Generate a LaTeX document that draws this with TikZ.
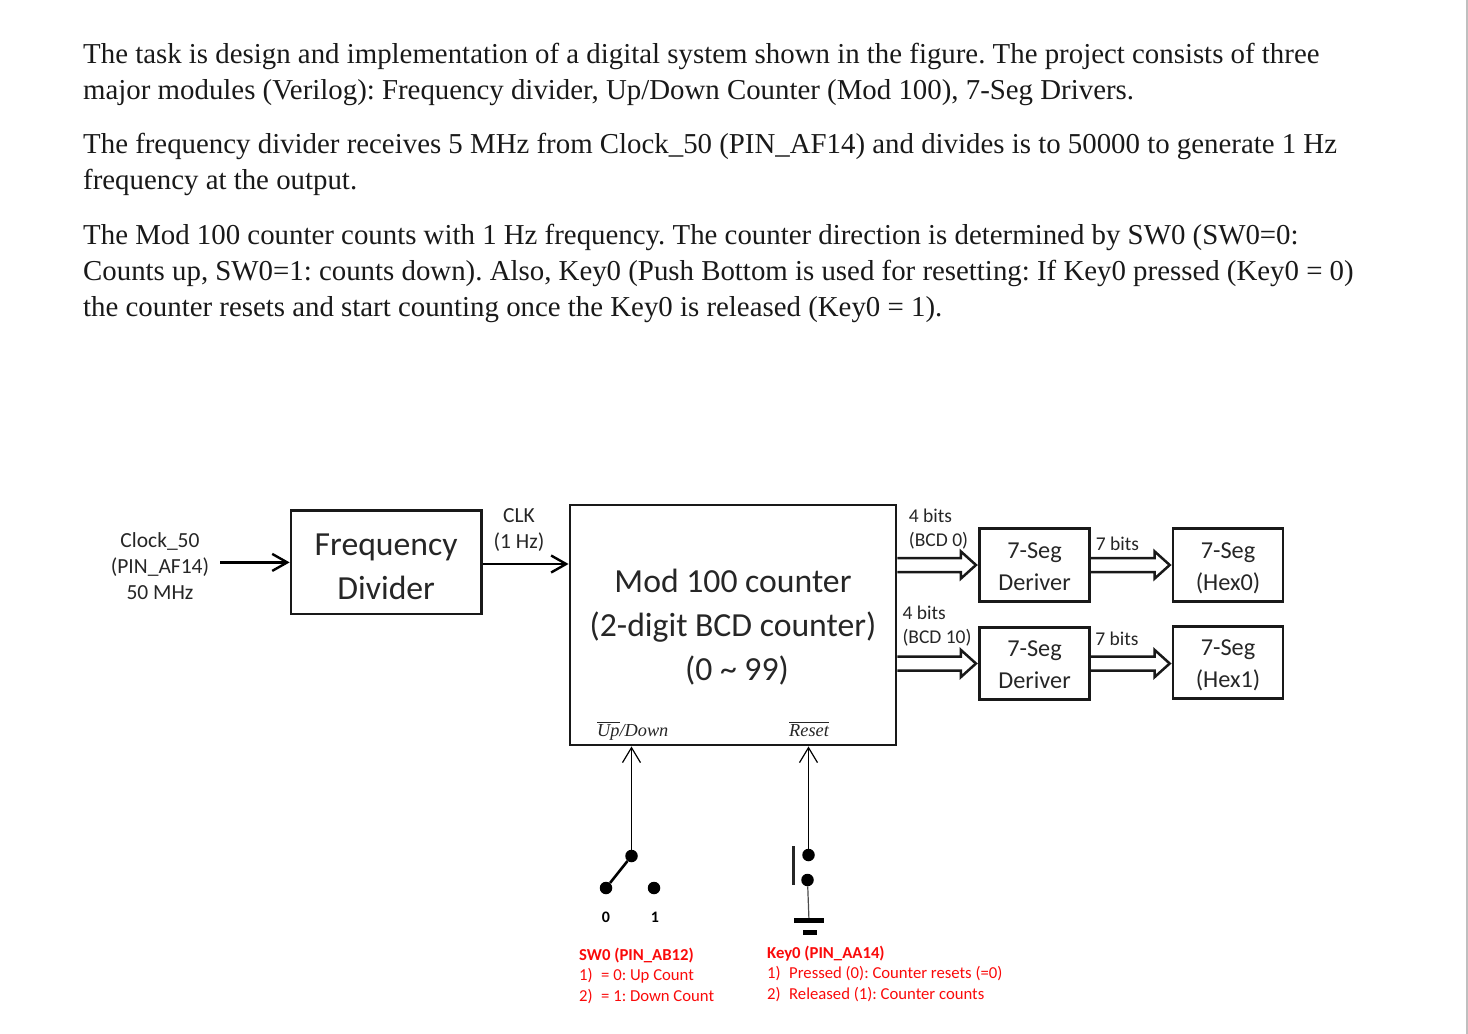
\documentclass[tikz,border=0pt]{standalone}
\usepackage{fontspec}
\setmainfont{Carlito}
\newfontfamily\bodyfont{Liberation Serif}
\usetikzlibrary{arrows.meta, positioning, calc}
\definecolor{notered}{RGB}{250,10,10}
\frenchspacing
\tikzstyle{para} = [inner sep=0pt, anchor=north west, align=left, font=\bodyfont\frenchspacing\fontsize{28.85}{36}\selectfont, text=black!90]
\tikzstyle{block} = [rectangle, draw=black!90, line width=2.6pt, inner sep=0pt, align=center, text=black!85]
\tikzstyle{small} = [block, font=\fontsize{24.3}{32}\selectfont]
\tikzstyle{big} = [block, line width=2.9pt, font=\fontsize{33.7}{44}\selectfont]
\tikzstyle{lab} = [inner sep=0pt, align=center, text=black!85, font=\fontsize{21.5}{26}\selectfont]
\tikzstyle{bits} = [inner sep=0pt, align=left, text=black!85, font=\fontsize{19.5}{24}\selectfont]
\tikzstyle{pinname} = [inner sep=0pt, anchor=base west, text=black!85, font=\bodyfont\itshape\fontsize{18.3}{20}\selectfont]
\tikzstyle{note} = [inner sep=0pt, anchor=north west, align=left, text=notered, font=\fontsize{16.7}{20.6}\selectfont]
\tikzstyle{dot} = [circle, fill=black, inner sep=0pt, minimum size=12.5pt]
\tikzstyle{digit} = [inner sep=0pt, font=\bfseries\fontsize{16}{18}\selectfont]
\tikzstyle{arrow} = [line width=2.4pt, -{Straight Barb[length=15pt,width=17pt,line width=2.4pt]}]
\tikzstyle{thinarrow} = [line width=1.2pt, -{Straight Barb[length=15pt,width=18pt,line width=1.2pt]}]
\tikzstyle{bus} = [line width=2.5pt, draw=black!90, line join=miter, to path={
    ($(\tikztostart)+(0,-7)$) -- ($(\tikztotarget)+(-15,-7)$) -- ($(\tikztotarget)+(-15,-13.5)$)
    -- (\tikztotarget) -- ($(\tikztotarget)+(-15,13.5)$) -- ($(\tikztotarget)+(-15,7)$) -- ($(\tikztostart)+(0,7)$)}]
\newcommand{\itemrow}[2]{\makebox[22pt][l]{#1}#2}
\newcommand{\tall}[1]{\rule{0pt}{#1pt}}

\begin{document}
\begin{tikzpicture}[x=1pt, y=-1pt, node distance=193.5pt]
    \useasboundingbox (0,0) rectangle (1468,1034);
    % page edge
    \fill[black!25] (1465.5,0) rectangle (1467.5,1034);

    % text above the figure
    \node (para1) [para] at (83,43) {The task is design and implementation of a digital system shown in the figure. The project consists of three\\
        major modules (Verilog): Frequency divider, Up/Down Counter (Mod 100), 7-Seg Drivers.};
    \node (para2) [para] at (83,133) {The frequency divider receives 5 MHz from Clock\_50 (PIN\_AF14) and divides is to 50000 to generate 1 Hz\\
        frequency at the output.};
    \node (para3) [para] at (83,224) {The Mod 100 counter counts with 1 Hz frequency. The counter direction is determined by SW0 (SW0=0:\\
        Counts up, SW0=1: counts down). Also, Key0 (Push Bottom is used for resetting: If Key0 pressed (Key0 = 0)\\
        the counter resets and start counting once the Key0 is released (Key0 = 1).};

    % blocks
    \node (mod) [big, minimum width=326pt, minimum height=240pt] at (733,625) {\tall{28}Mod 100 counter\\(2-digit BCD counter)\\\hspace*{8pt}(0 \char`\~{} 99)};
    \node (freq) [big, line width=2.6pt, minimum width=190.5pt, minimum height=103.5pt] at (386.2,562.4) {\tall{30}Frequency\\Divider};
    \node (drv0) [small, minimum width=109.5pt, minimum height=72.5pt] at (1034.5,565) {\tall{19.5}7-Seg\\Deriver};
    \node (hex0) [small, right of=drv0, minimum width=110pt, minimum height=72.5pt] {\tall{21.5}7-Seg\\(Hex0)};
    \node (drv1) [small, minimum width=109.5pt, minimum height=72.5pt] at (1034.5,663.5) {\tall{18.5}7-Seg\\Deriver};
    \node (hex1) [small, right of=drv1, yshift=1pt, minimum width=110pt, minimum height=72.5pt] {\tall{21.5}7-Seg\\(Hex1)};

    % clock side
    \node (clock) [lab] at (160,566) {Clock\_50\\(PIN\_AF14)\\50 MHz};
    \coordinate (clockout) at (220,562.4);
    \node (clk) [lab] at (519,530) {CLK\\(1 Hz)};
    \draw [arrow] (clockout) -- (freq.west);
    \draw [arrow] ([yshift=-1.6pt]freq.east) -- ([yshift=-1.6pt]freq.east -| mod.west);

    % buses
    \draw [bus] (mod.east |- drv0) to ([xshift=-2.5pt]drv0.west);
    \draw [bus] (mod.east |- drv1) to ([xshift=-2.5pt]drv1.west);
    \draw [bus] (drv0.east) to ([xshift=-2pt]hex0.west);
    \draw [bus] (drv1.east) to ([xshift=-2pt]drv1.west -| hex1.west);

    \node (bits0) [bits] at (938.5,529.5) {4 bits\\(BCD 0)};
    \node (bits1) [bits] at (937,626.5) {4 bits\\(BCD 10)};
    \node (seven0) [bits] at (1117.5,544) {7 bits};
    \node (seven1) [bits] at (1117,639) {7 bits};

    % inputs of the counter
    \node (updown) [pinname] at (597,736) {$\overline{\mbox{Up}}$/Down};
    \node (reset) [pinname] at (789,736) {$\overline{\mbox{Reset}}$};

    % switch
    \node (swtop) [dot] at (631.5,856) {};
    \node (swzero) [dot] at (606,888) {};
    \node (swone) [dot] at (654,888) {};
    \draw [line width=2.6pt] (swtop) -- (swzero);
    \draw [thinarrow] (swtop) -- (swtop |- mod.south);
    \node (zero) [digit] at (606,917) {0};
    \node (one) [digit] at (655,917) {1};

    % push button
    \node (keytop) [dot] at (808.5,855) {};
    \node (keylow) [dot] at (807.5,880) {};
    \node (keybar) [fill=black!85, inner sep=0pt, minimum width=2.4pt, minimum height=39pt] at (793.5,865) {};
    \node (gndtop) [fill=black, inner sep=0pt, minimum width=30pt, minimum height=5pt] at (809,920.5) {};
    \node (gndlow) [fill=black, inner sep=0pt, minimum width=14pt, minimum height=5pt] at (810,932.5) {};
    \draw [thinarrow] (keytop) -- (keytop |- mod.south);
    \draw [line width=1.2pt, black!70] (keylow) -- (gndtop);

    % red notes
    \node (swnote) [note] at (579,947.5) {\textbf{SW0 (PIN\_AB12)}\\\itemrow{1)}{= 0: Up Count}\\\itemrow{2)}{= 1: Down Count}};
    \node (keynote) [note] at (767,945.5) {\textbf{Key0 (PIN\_AA14)}\\\itemrow{1)}{Pressed (0): Counter resets (=0)}\\\itemrow{2)}{Released (1): Counter counts}};
\end{tikzpicture}
\end{document}
